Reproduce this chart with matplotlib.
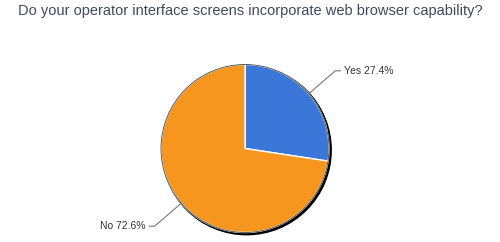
import numpy as np
import matplotlib

matplotlib.use("Agg")
import matplotlib.pyplot as plt

TITLE = "Do your operator interface screens incorporate web browser capability?"
labels = ["Yes", "No"]
shares = [27.4, 72.6]
colors = ["#3a77d8", "#f7961e"]

W, H = 500, 242
CX, CY, R = 245, H - 148.5, 84

plt.rcParams["font.family"] = ["Liberation Sans", "DejaVu Sans"]

fig = plt.figure(figsize=(W / 100, H / 100), dpi=100)
ax = fig.add_axes([0, 0, 1, 1])
ax.set_xlim(0, W)
ax.set_ylim(0, H)
ax.set_aspect("equal")
ax.axis("off")

# shadow behind the pie
ax.add_patch(plt.Circle((CX + 1.6, CY - 1.6), R + 0.6, color="black", zorder=1))

wedges, _ = ax.pie(
    shares,
    colors=colors,
    startangle=90,
    counterclock=False,
    center=(CX, CY),
    radius=R,
    frame=True,
    wedgeprops=dict(edgecolor="white", linewidth=1.0, zorder=2),
)
ax.set_xlim(0, W)
ax.set_ylim(0, H)
ax.axis("off")
ax.add_patch(plt.Circle((CX, CY), R, fill=False, ec="#444444", lw=0.6, zorder=3))

for w, lab, val in zip(wedges, labels, shares):
    mid = np.deg2rad((w.theta1 + w.theta2) / 2)
    x0, y0 = CX + R * np.cos(mid), CY + R * np.sin(mid)
    x1, y1 = CX + 1.42 * R * np.cos(mid), CY + 1.42 * R * np.sin(mid)
    side = 1 if np.cos(mid) > 0 else -1
    x2 = x1 + side * 5
    ax.plot([x0, x1, x2], [y0, y1, y1], color="#777777", lw=0.8, zorder=4)
    ax.text(x2 + side * 4, y1, f"{lab} {val:.1f}%", ha="left" if side > 0 else "right",
            va="center", fontsize=7.5, color="#333333")

fig.text(0.5, 1 - 11 / H, TITLE, ha="center", va="center", fontsize=10.5, color="#3c4a5c")

fig.savefig("out.png", dpi=100, facecolor="white")
